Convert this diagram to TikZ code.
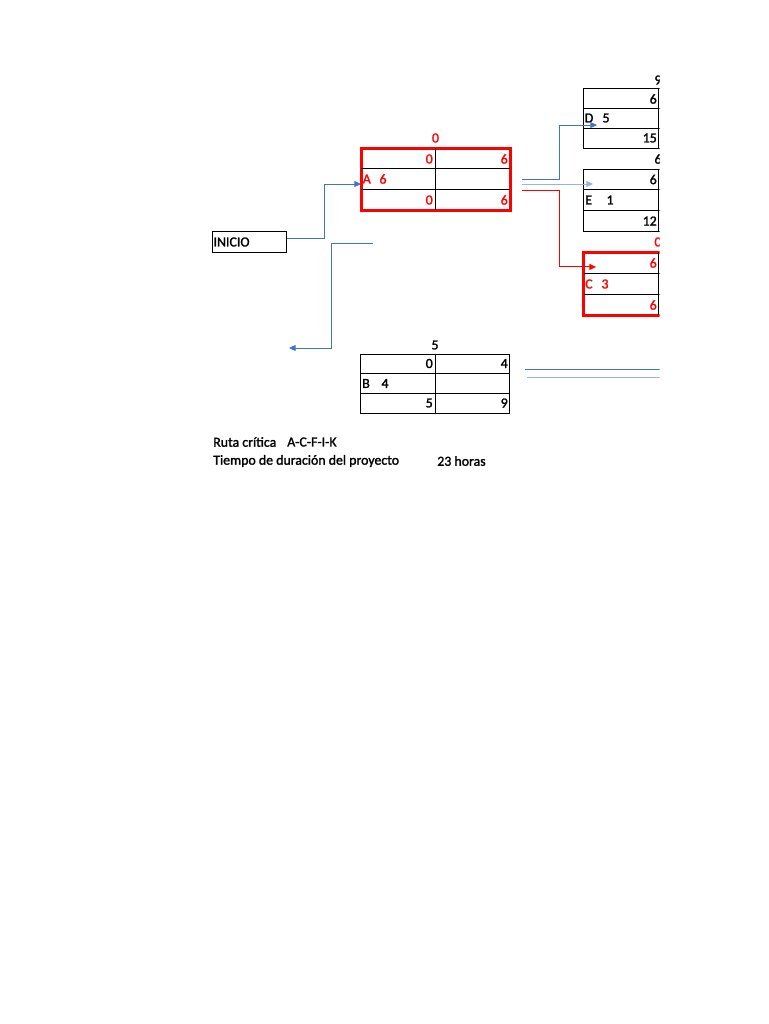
\documentclass[tikz,border=0pt]{standalone}
\usepackage{fontspec}
\setmainfont{Carlito}[FakeBold=1.5]
\usetikzlibrary{calc, arrows.meta}
\definecolor{exblue}{RGB}{68,114,196}
\definecolor{exlightblue}{RGB}{150,178,225}
\definecolor{exred}{RGB}{255,0,0}

\begin{document}
\begin{tikzpicture}[x=0.75pt,y=-0.75pt,font=\fontsize{10.4}{12.5}\selectfont]
							\tikzstyle{act} = [rectangle,draw=black,line width=0.75pt,inner sep=0pt,outer sep=0pt,minimum width=111.75pt]
							\tikzstyle{act2} = [rectangle,draw=exred,line width=2.25pt,inner sep=0pt,outer sep=0pt,minimum width=111.75pt]
							\tikzstyle{grid} = [-,draw=black,line width=0.6pt]
							\tikzstyle{rnum} = [inner sep=0pt,anchor=east,text=black]
							\tikzstyle{rnum2} = [inner sep=0pt,anchor=east,text=exred]
							\tikzstyle{lbl} = [inner sep=0pt,anchor=west,text=black]
							\tikzstyle{lbl2} = [inner sep=0pt,anchor=west,text=exred]
							\tikzstyle{dur} = [inner sep=0pt,text=black]
							\tikzstyle{dur2} = [inner sep=0pt,text=exred]
							\tikzstyle{edge} = [-{Triangle[length=5pt,width=4.5pt]},draw=exblue,line width=0.75pt]
							\tikzstyle{edge2} = [-{Triangle[length=5pt,width=4.5pt]},draw=exred,line width=0.75pt]
							\tikzstyle{edge3} = [-{Triangle[length=5pt,width=4.5pt]},draw=exlightblue,line width=0.75pt]
							\useasboundingbox (0,0) rectangle (768,1024);
							\clip (0,0) rectangle (659.5,1024);
							\node[act,minimum width=55.9pt,minimum height=16.3pt,text width=53.9pt,inner xsep=1pt,align=left] (inicio) at (249.5,242) {INICIO};
							
							\node[act2,minimum height=46.5pt] (nA) at (435.5,179) {};
							\node[act,minimum height=44.25pt] (nD) at (658,118.5) {};
							\node[act,minimum height=46.5pt] (nE) at (658,200) {};
							\node[act2,minimum height=47.25pt] (nC) at (658,283.5) {};
							\node[act,minimum height=44.25pt] (nB) at (435,383.5) {};
							
							\draw[grid] (nA.north) -- (nA.south);
							\draw[grid] ($(nA.north west)!1/3!(nA.south west)$) -- ($(nA.north east)!1/3!(nA.south east)$);
							\draw[grid] ($(nA.north west)!2/3!(nA.south west)$) -- ($(nA.north east)!2/3!(nA.south east)$);
							\draw[grid] (nD.north) -- (nD.south);
							\draw[grid] ($(nD.north west)!1/3!(nD.south west)$) -- ($(nD.north east)!1/3!(nD.south east)$);
							\draw[grid] ($(nD.north west)!2/3!(nD.south west)$) -- ($(nD.north east)!2/3!(nD.south east)$);
							\draw[grid] (nE.north) -- (nE.south);
							\draw[grid] ($(nE.north west)!1/3!(nE.south west)$) -- ($(nE.north east)!1/3!(nE.south east)$);
							\draw[grid] ($(nE.north west)!2/3!(nE.south west)$) -- ($(nE.north east)!2/3!(nE.south east)$);
							\draw[grid] (nC.north) -- (nC.south);
							\draw[grid] ($(nC.north west)!1/3!(nC.south west)$) -- ($(nC.north east)!1/3!(nC.south east)$);
							\draw[grid] ($(nC.north west)!2/3!(nC.south west)$) -- ($(nC.north east)!2/3!(nC.south east)$);
							\draw[grid] (nB.north) -- (nB.south);
							\draw[grid] ($(nB.north west)!1/3!(nB.south west)$) -- ($(nB.north east)!1/3!(nB.south east)$);
							\draw[grid] ($(nB.north west)!2/3!(nB.south west)$) -- ($(nB.north east)!2/3!(nB.south east)$);
							
							\node[dur2] (a0) at (435.5,138) {0};
							\node[rnum2] (a1) at (433,159) {0};
							\node[rnum2] (a2) at (508,159) {6};
							\node[lbl2] (a3) at (362.5,179) {A};
							\node[dur2] (a4) at (383,179) {6};
							\node[rnum2] (a5) at (433,200) {0};
							\node[rnum2] (a6) at (508,200) {6};
							
							\node[dur] (d0) at (658,80) {9};
							\node[rnum] (d1) at (657,99) {6};
							\node[lbl] (d3) at (584.5,118) {D};
							\node[dur] (d4) at (606,118) {5};
							\node[rnum] (d5) at (657,138) {15};
							
							\node[dur] (e0) at (658,159) {6};
							\node[rnum] (e1) at (657,179.5) {6};
							\node[lbl] (e3) at (585,200) {E};
							\node[dur] (e4) at (610,200) {1};
							\node[rnum] (e5) at (657,221) {12};
							
							\node[dur2] (c0) at (658,242) {0};
							\node[rnum2] (c1) at (657,263) {6};
							\node[lbl2] (c3) at (585,284) {C};
							\node[dur2] (c4) at (605,284) {3};
							\node[rnum2] (c5) at (657,305) {6};
							
							\node[dur] (b0) at (435,345) {5};
							\node[rnum] (b1) at (433,363.5) {0};
							\node[rnum] (b2) at (508,363.5) {4};
							\node[lbl] (b3) at (362,383.5) {B};
							\node[dur] (b4) at (385,383.5) {4};
							\node[rnum] (b5) at (433,403) {5};
							\node[rnum] (b6) at (508,403) {9};
							
							\node[lbl] (ruta) at (213,442) {Ruta crítica};
							\node[lbl] (rutaval) at (287,442) {A-C-F-I-K};
							\node[lbl] (tiempo) at (213,461) {Tiempo de duración del proyecto};
							\node[lbl] (tiempoval) at (437,461) {23 horas};
							
							\coordinate (p1) at (373,243);
							\coordinate (p2) at (289,348);
							\coordinate (q1) at (665,369);
							\coordinate (q2) at (665,377);
							
							\draw[edge] ([yshift=3pt]inicio.east) -- ++(37.5,0) |- ([yshift=-3.75pt]nA.west);
							\draw[edge] (p1) -- ++(-42,0) |- (p2);
							\draw[edge] ([xshift=9pt]nA.east) -- ++(37,0) |- ([xshift=10.1pt,yshift=-4.9pt]nD.west);
							\draw[edge3] ([xshift=9pt,yshift=-3.75pt]nA.east) -- ([xshift=7.1pt,yshift=12pt]nE.west);
							\draw[edge2] ([xshift=9pt,yshift=-8.6pt]nA.east) -- ++(37,0) |- ([xshift=9.4pt,yshift=12.4pt]nC.west);
							\draw[edge,-] ([xshift=11.6pt]nB.east |- q1) -- (q1);
							\draw[edge3,-] ([xshift=13.1pt]nB.east |- q2) -- (q2);
							\end{tikzpicture}
\end{document}
